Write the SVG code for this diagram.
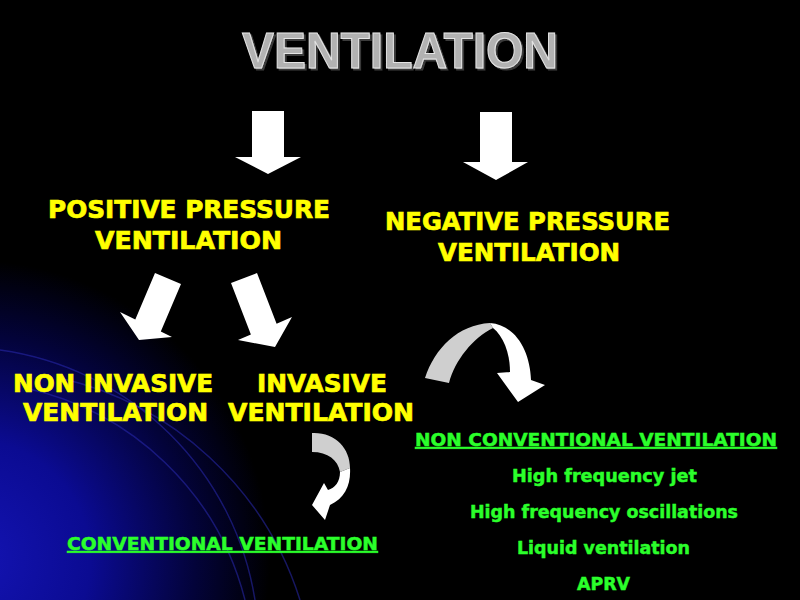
<svg xmlns="http://www.w3.org/2000/svg" width="800" height="600" viewBox="0 0 800 600">
  <defs>
    <radialGradient id="bgGlow" gradientUnits="userSpaceOnUse" cx="-30" cy="560" r="300">
      <stop offset="0" stop-color="#1414b4"/>
      <stop offset="0.4" stop-color="#0b0b92"/>
      <stop offset="0.75" stop-color="#03033a"/>
      <stop offset="1" stop-color="#000000"/>
    </radialGradient>
    <filter id="titleShadow" x="-5%" y="-20%" width="110%" height="140%">
      <feDropShadow dx="2" dy="2" stdDeviation="0.6" flood-color="#3a3a3a" flood-opacity="1"/>
    </filter>
    <style>
      .title { font-family: "Liberation Sans", Arial, sans-serif; font-weight: bold; font-size: 50px; fill: #b2b2b2; stroke: #e4e4e4; stroke-width: 1; }
      .yel { font-family: "DejaVu Sans", Tahoma, sans-serif; font-weight: bold; font-size: 24px; fill: #ffff00; stroke: #ffff00; stroke-width: 0.7; }
      .grn { font-family: "DejaVu Sans", Tahoma, sans-serif; font-weight: bold; font-size: 18.5px; fill: #2bff2b; stroke: #2bff2b; stroke-width: 0.5; }
      .arrow { fill: #ffffff; }
      .arrowShade { fill: #cfcfcf; }
      .swoosh { fill: none; stroke: #2a2ab0; stroke-width: 1.5; opacity: 0.55; }
    </style>
  </defs>

  <!-- background -->
  <rect x="0" y="0" width="800" height="600" fill="#000000"/>
  <rect x="0" y="0" width="800" height="600" fill="url(#bgGlow)"/>
  <path class="swoosh" d="M0,350 A300 300 0 0 1 255,600"/>
  <path class="swoosh" d="M25,388 A290 290 0 0 1 245,600"/>
  <path class="swoosh" d="M60,378 A330 330 0 0 1 300,600"/>

  <!-- title -->
  <g id="title">
    <text class="title" x="242" y="68" textLength="316" lengthAdjust="spacingAndGlyphs" filter="url(#titleShadow)">VENTILATION</text>
  </g>

  <!-- nodes -->
  <g id="positive">
    <text class="yel" x="48" y="218" textLength="282" lengthAdjust="spacingAndGlyphs">POSITIVE PRESSURE</text>
    <text class="yel" x="95" y="249" textLength="187" lengthAdjust="spacingAndGlyphs">VENTILATION</text>
  </g>
  <g id="negative">
    <text class="yel" x="385" y="230" textLength="285" lengthAdjust="spacingAndGlyphs">NEGATIVE PRESSURE</text>
    <text class="yel" x="438" y="261" textLength="182" lengthAdjust="spacingAndGlyphs">VENTILATION</text>
  </g>
  <g id="noninvasive">
    <text class="yel" x="13" y="392" textLength="200" lengthAdjust="spacingAndGlyphs">NON INVASIVE</text>
    <text class="yel" x="23" y="421" textLength="185" lengthAdjust="spacingAndGlyphs">VENTILATION</text>
  </g>
  <g id="invasive">
    <text class="yel" x="257" y="392" textLength="130" lengthAdjust="spacingAndGlyphs">INVASIVE</text>
    <text class="yel" x="228" y="421" textLength="186" lengthAdjust="spacingAndGlyphs">VENTILATION</text>
  </g>
  <g id="conventional">
    <text class="grn" x="67" y="550" textLength="311" lengthAdjust="spacingAndGlyphs" text-decoration="underline">CONVENTIONAL VENTILATION</text>
  </g>
  <g id="nonconventional">
    <text class="grn" x="415" y="446" textLength="362" lengthAdjust="spacingAndGlyphs" text-decoration="underline">NON CONVENTIONAL VENTILATION</text>
    <text class="grn" x="512" y="482" textLength="185" lengthAdjust="spacingAndGlyphs">High frequency jet</text>
    <text class="grn" x="470" y="518" textLength="268" lengthAdjust="spacingAndGlyphs">High frequency oscillations</text>
    <text class="grn" x="517" y="554" textLength="173" lengthAdjust="spacingAndGlyphs">Liquid ventilation</text>
    <text class="grn" x="577" y="590" textLength="53" lengthAdjust="spacingAndGlyphs">APRV</text>
  </g>

  <!-- connectors -->
  <g id="connectors">
    <polygon class="arrow" points="252,111 284,111 284,157 301,157 268,174 235,157 252,157"/>
    <polygon class="arrow" points="480,112 512,112 512,162 528,162 496,180 463,162 480,162"/>
    <polygon class="arrow" points="155,273 181,284 160.8,331.6 172,337 139,340 120,312 135.3,319.4"/>
    <polygon class="arrow" points="231,283 257,273 276.6,323.7 292,317 275,347 238,340 250.9,334.5"/>
    <g id="curve-right">
      <path class="arrowShade" d="M425,378 C435,348 458,325 490,323 L493,328 C473,338 455,360 449,383 Z"/>
      <path class="arrow" d="M490,323 C515,325 530,350 531,380 L545,385 L518,402 L497,373 L510,372 C510,352 503,336 493,328 Z"/>
    </g>
    <g id="curve-left">
      <path class="arrowShade" d="M312,433 C335,432 350,448 350,468 L340,472 C338,460 328,452 312,452 Z"/>
      <path class="arrow" d="M340,472 L350,468 C351,485 345,498 330,505 L325,520 L312,505 L324,483 L328,490 C335,488 340,482 340,472 Z"/>
    </g>
  </g>
</svg>
